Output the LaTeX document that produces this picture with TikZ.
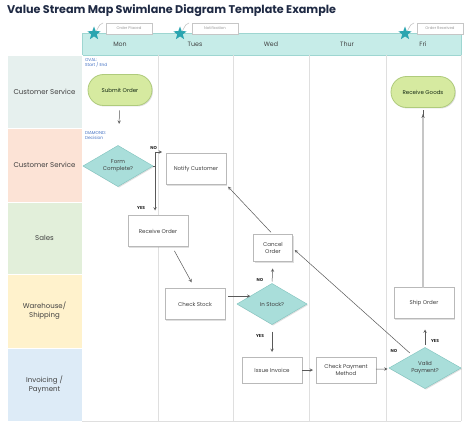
\documentclass[tikz,border=0pt]{standalone}
\usepackage{fontspec}
\setmainfont{Poppins}
\usetikzlibrary{shapes.geometric,shapes.misc,shadows}
\definecolor{titlecol}{HTML}{1F2A44}
\definecolor{hdrfill}{HTML}{C6ECE8}
\definecolor{hdrline}{HTML}{9ED6D1}
\definecolor{starcol}{HTML}{2AA5B0}
\definecolor{laneA}{HTML}{E6F0EE}
\definecolor{laneB}{HTML}{FCE3D6}
\definecolor{laneC}{HTML}{E2EFDA}
\definecolor{laneD}{HTML}{FFF2CC}
\definecolor{laneE}{HTML}{DDEBF7}
\definecolor{ovalfill}{HTML}{D6EAA0}
\definecolor{ovalline}{HTML}{AFCB7C}
\definecolor{diafill}{HTML}{A9DEDA}
\definecolor{dialine}{HTML}{7FC3BE}
\definecolor{txtcol}{HTML}{404040}
\definecolor{notecol}{HTML}{4472C4}
\begin{document}
\begin{tikzpicture}[x=1pt,y=-1pt,inner sep=0pt,outer sep=0pt,>=stealth,
task/.style={draw=gray!55,fill=white,rectangle,minimum width=60pt,minimum height=31pt,align=center,
  font=\fontsize{5.5}{7}\selectfont,text=txtcol,drop shadow={opacity=0.25,shadow xshift=1pt,shadow yshift=-1pt}},
oval/.style={rounded rectangle,draw=ovalline,fill=ovalfill,line width=0.8pt,minimum width=64pt,minimum height=31pt,
  font=\fontsize{5.5}{7}\selectfont,text=txtcol!80!green!40!black,drop shadow={opacity=0.25,shadow xshift=1pt,shadow yshift=-1pt}},
decision/.style={diamond,draw=dialine,fill=diafill,aspect=1.7,minimum width=70pt,minimum height=41pt,align=center,
  font=\fontsize{5.5}{7}\selectfont,text=txtcol,drop shadow={opacity=0.25,shadow xshift=1pt,shadow yshift=-1pt}},
tag/.style={draw=gray!45,fill=white,rectangle,minimum width=46pt,minimum height=11pt,
  font=\fontsize{3.8}{4}\selectfont,text=gray!80,drop shadow={opacity=0.2,shadow xshift=0.7pt,shadow yshift=-0.7pt}},
note/.style={anchor=north west,align=left,font=\fontsize{4.3}{5.5}\selectfont,text=notecol},
lbl/.style={font=\fontsize{4.3}{5}\selectfont\bfseries,text=black!85},
flow/.style={->,draw=gray!70!black,line width=0.5pt}]
\useasboundingbox (0,0) rectangle (474,425);
\fill[white] (0,0) rectangle (474,425);
% title
\node[anchor=west,font=\fontsize{11.2}{13}\selectfont\bfseries,text=titlecol] (title) at (7,11)
  {Value Stream Map Swimlane Diagram Template Example};
% header band
\draw[draw=hdrline,fill=hdrfill] (82,33) rectangle (461,55);
\foreach \x/\day in {120/Mon,195/Tues,271/Wed,347/Thur,423/Fri}
  \node[font=\fontsize{6.3}{7}\selectfont,text=txtcol] at (\x,44.5) {\day};
% lanes
\foreach \ya/\yb/\col/\txt in {55/128/laneA/{Customer Service},128/202/laneB/{Customer Service},
  202/274/laneC/Sales,274/348/laneD/{Warehouse/\\Shipping},348/421/laneE/{Invoicing /\\Payment}}{
  \draw[fill=\col,draw=white,line width=0.8pt] (7,\ya) rectangle (82,\yb);
  \node[align=center,font=\fontsize{7}{9}\selectfont,text=txtcol] at (44.5,{(\ya+\yb)/2}) {\txt};
}
\foreach \x in {158,233,309,386,461}
  \draw[gray!25,line width=0.6pt] (\x,55) -- (\x,421);
\draw[gray!25,line width=0.6pt] (82,421) -- (461,421);
% milestones
\foreach \x/\t/\n in {94/{Order Placed}/1,180/Notification/2,405/{Order Received}/3}{
  \node[star,star points=5,star point ratio=2.4,fill=starcol,minimum size=14pt] (star\n) at (\x,33.5) {};
  \node[tag] (tag\n) at (\x+35,28.5) {\t};
  \draw[gray!50,line width=0.5pt] (star\n.north east) .. controls (\x+6,24) .. ([xshift=-3pt]tag\n.north west);
}
% notes
\node[note] (ovalnote) at (85,58) {OVAL:\\Start / End};
\node[note] (dianote) at (85,131) {DIAMOND:\\Decision};
% steps
\node[oval] (submit) at (120,90) {Submit Order};
\node[oval] (goods) at (423,92) {Receive Goods};
\node[decision] (form) at (118,166) {Form\\Complete?};
\node[task] (notify) at (196,169) {Notify Customer};
\node[task] (recv) at (158,231) {Receive Order};
\node[task] (cstock) at (195,304) {Check Stock};
\node[decision] (instock) at (272,304) {In Stock?};
\node[task,minimum width=39pt,minimum height=27pt] (cancel) at (273,248) {Cancel\\Order};
\node[task,minimum height=26pt] (invoice) at (272,370) {Issue Invoice};
\node[task,minimum height=26pt] (cpay) at (346,370) {Check Payment\\Method};
\node[decision,minimum width=72pt] (valid) at (425,368) {Valid\\Payment?};
\node[task] (ship) at (424,303) {Ship Order};
\coordinate (split) at (155,152);
% connectors
\draw[flow,shorten <=5pt,shorten >=22pt] (submit) -- (form);
\draw[flow] (form.east) -| (split) -- ([xshift=-4pt]notify.west |- split);
\node[lbl,anchor=south east] (no1) at ([xshift=2pt,yshift=2pt]split) {NO};
\draw[flow,shorten >=5pt] (split) -- (split |- recv.north);
\node[lbl,anchor=south east] (yes1) at ([xshift=-10pt,yshift=6pt]split |- recv.north) {YES};
\draw[flow,shorten <=5pt,shorten >=7pt] ([xshift=14pt]recv.south) -- (cstock.north);
\draw[flow] ([xshift=3pt]cstock.east |- instock.160) -- (instock.160);
\draw[flow,shorten <=2pt,shorten >=7pt] (instock.north) -- (cancel.south);
\node[lbl] (no2) at (260,280) {NO};
\draw[flow,shorten <=3pt,shorten >=3pt] (cancel.north) -- (notify.south east);
\draw[flow,shorten <=7pt,shorten >=5pt] (instock.south) -- (invoice.north);
\node[lbl] (yes2) at (260,336) {YES};
\draw[flow,shorten >=3pt] (invoice) -- (cpay);
\draw[flow,shorten >=3pt] (cpay) -- (valid);
\draw[flow,shorten <=3pt,shorten >=11pt] (valid.north) -- (valid.north |- ship.south);
\node[lbl] (yes3) at (435,341) {YES};
\draw[gray!45,line width=1.3pt,shorten >=7pt] (ship.north -| goods.south) -- (goods.south);
\draw[flow,shorten >=7pt] ([yshift=-3pt]goods.south) -- (goods.south);
\draw[flow,shorten <=3pt,shorten >=3pt] (valid.135) -- (cancel.east);
\node[lbl] (no3) at (394,351) {NO};
\end{tikzpicture}
\end{document}
